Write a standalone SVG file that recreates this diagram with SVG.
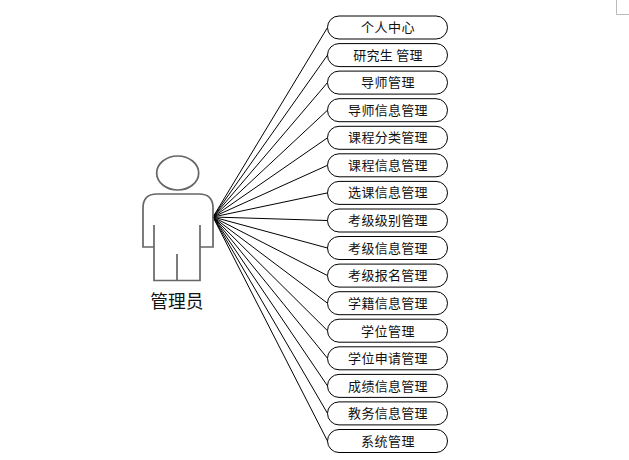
<svg xmlns="http://www.w3.org/2000/svg" width="629" height="460" viewBox="0 0 629 460">
<style>
.p{fill:#fff;stroke:#000;stroke-width:1}
.c{fill:none;stroke:#000;stroke-width:1}
.a{fill:none;stroke:#666;stroke-width:1.700}
.t{font-family:"Noto Sans CJK SC","Liberation Sans",sans-serif;font-size:13px;text-anchor:middle;fill:#111}
.m{fill:none;stroke:#bbb;stroke-width:1}
</style>
<rect width="629" height="460" fill="#fff"/>
<path class="m" d="M616.500 0V14.500H629"/>
<g id="connectors">
<path class="c" d="M213 217L327.500 27.500"/>
<path class="c" d="M213 217L327.500 55.100"/>
<path class="c" d="M213 217L327.500 82.600"/>
<path class="c" d="M213 217L327.500 110.200"/>
<path class="c" d="M213 217L327.500 137.800"/>
<path class="c" d="M213 217L327.500 165.300"/>
<path class="c" d="M213 217L327.500 192.900"/>
<path class="c" d="M213 217L327.500 220.500"/>
<path class="c" d="M213 217L327.500 248"/>
<path class="c" d="M213 217L327.500 275.600"/>
<path class="c" d="M213 217L327.500 303.200"/>
<path class="c" d="M213 217L327.500 330.700"/>
<path class="c" d="M213 217L327.500 358.300"/>
<path class="c" d="M213 217L327.500 385.900"/>
<path class="c" d="M213 217L327.500 413.400"/>
<path class="c" d="M213 217L327.500 441"/>
</g>
<g id="actor">
<ellipse class="a" cx="177.700" cy="173" rx="21" ry="17"/>
<path class="a" d="M154 225V247H143V208Q143 194 157 194H199Q213 194 213 208V247H200V225M154 247V280.500H200V247M177 254V280.500"/>
<text x="176.800" y="308" font-family="'Noto Sans CJK SC',sans-serif" font-size="17.700" text-anchor="middle" fill="#111">管理员</text>
</g>
<g id="n1"><rect class="p" x="327.500" y="16" width="120" height="23" rx="11.500"/><text class="t" x="388" y="32" letter-spacing=".5">个人中心</text></g>
<g id="n2"><rect class="p" x="327.500" y="43.600" width="120" height="23" rx="11.500"/><text class="t" x="388" y="59.600" letter-spacing=".3">研究生 管理</text></g>
<g id="n3"><rect class="p" x="327.500" y="71.100" width="120" height="23" rx="11.500"/><text class="t" x="388" y="87.100" letter-spacing=".5">导师管理</text></g>
<g id="n4"><rect class="p" x="327.500" y="98.700" width="120" height="23" rx="11.500"/><text class="t" x="388" y="114.700" letter-spacing=".3">导师信息管理</text></g>
<g id="n5"><rect class="p" x="327.500" y="126.300" width="120" height="23" rx="11.500"/><text class="t" x="388" y="142.300" letter-spacing=".3">课程分类管理</text></g>
<g id="n6"><rect class="p" x="327.500" y="153.800" width="120" height="23" rx="11.500"/><text class="t" x="388" y="169.800" letter-spacing=".3">课程信息管理</text></g>
<g id="n7"><rect class="p" x="327.500" y="181.400" width="120" height="23" rx="11.500"/><text class="t" x="388" y="197.400" letter-spacing=".3">选课信息管理</text></g>
<g id="n8"><rect class="p" x="327.500" y="209" width="120" height="23" rx="11.500"/><text class="t" x="388" y="225" letter-spacing=".3">考级级别管理</text></g>
<g id="n9"><rect class="p" x="327.500" y="236.500" width="120" height="23" rx="11.500"/><text class="t" x="388" y="252.500" letter-spacing=".3">考级信息管理</text></g>
<g id="n10"><rect class="p" x="327.500" y="264.100" width="120" height="23" rx="11.500"/><text class="t" x="388" y="280.100" letter-spacing=".3">考级报名管理</text></g>
<g id="n11"><rect class="p" x="327.500" y="291.700" width="120" height="23" rx="11.500"/><text class="t" x="388" y="307.700" letter-spacing=".3">学籍信息管理</text></g>
<g id="n12"><rect class="p" x="327.500" y="319.200" width="120" height="23" rx="11.500"/><text class="t" x="388" y="335.700" letter-spacing=".5">学位管理</text></g>
<g id="n13"><rect class="p" x="327.500" y="346.800" width="120" height="23" rx="11.500"/><text class="t" x="388" y="362.800" letter-spacing=".3">学位申请管理</text></g>
<g id="n14"><rect class="p" x="327.500" y="374.400" width="120" height="23" rx="11.500"/><text class="t" x="388" y="390.900" letter-spacing=".3">成绩信息管理</text></g>
<g id="n15"><rect class="p" x="327.500" y="401.900" width="120" height="23" rx="11.500"/><text class="t" x="388" y="417.900" letter-spacing=".3">教务信息管理</text></g>
<g id="n16"><rect class="p" x="327.500" y="429.500" width="120" height="23" rx="11.500"/><text class="t" x="388" y="445.500" letter-spacing=".5">系统管理</text></g>
</svg>
